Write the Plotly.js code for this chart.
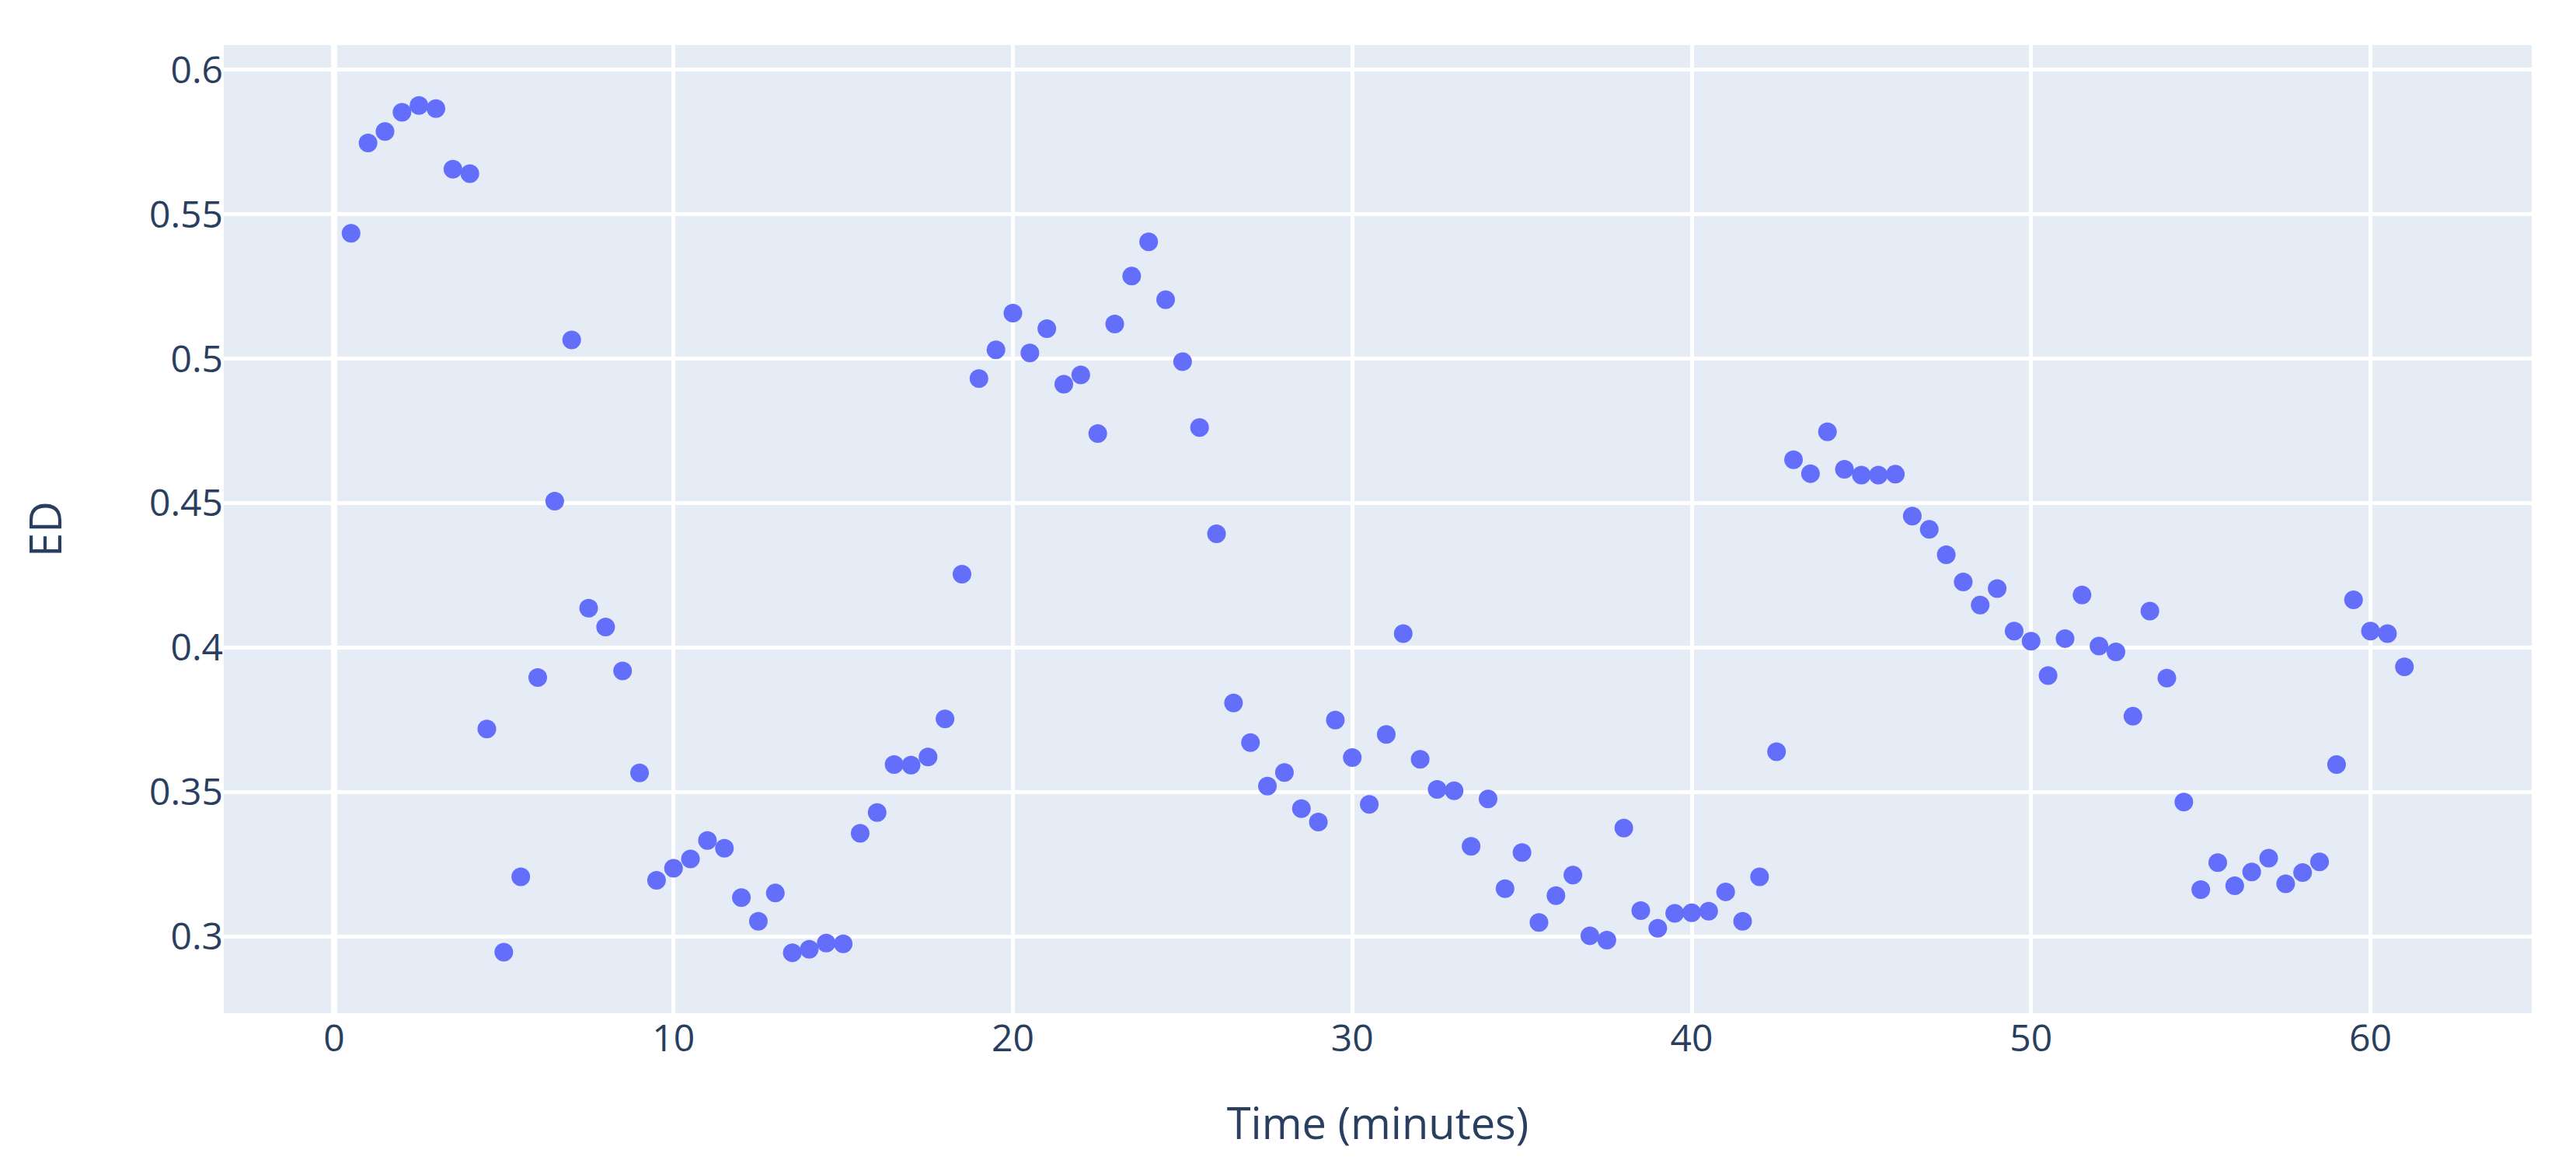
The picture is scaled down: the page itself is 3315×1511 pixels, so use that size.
<!DOCTYPE html>
<html>
<head>
<meta charset="utf-8">
<script src="https://cdn.plot.ly/plotly-3.0.1.min.js"></script>
<style>
  html, body { margin: 0; padding: 0; background: #ffffff; }
  #chart { width: 3315px; height: 1511px; }
</style>
</head>
<body>
<div id="chart"></div>
<script>
const timeMinutes = [
  0.5, 1, 1.5, 2, 2.5, 3, 3.5, 4, 4.5, 5, 5.5, 6, 6.5, 7, 7.5, 8, 8.5, 9, 9.5, 10,
  10.5, 11, 11.5, 12, 12.5, 13, 13.5, 14, 14.5, 15, 15.5, 16, 16.5, 17, 17.5, 18, 18.5, 19, 19.5, 20,
  20.5, 21, 21.5, 22, 22.5, 23, 23.5, 24, 24.5, 25, 25.5, 26, 26.5, 27, 27.5, 28, 28.5, 29, 29.5, 30,
  30.5, 31, 31.5, 32, 32.5, 33, 33.5, 34, 34.5, 35, 35.5, 36, 36.5, 37, 37.5, 38, 38.5, 39, 39.5, 40,
  40.5, 41, 41.5, 42, 42.5, 43, 43.5, 44, 44.5, 45, 45.5, 46, 46.5, 47, 47.5, 48, 48.5, 49, 49.5, 50,
  50.5, 51, 51.5, 52, 52.5, 53, 53.5, 54, 54.5, 55, 55.5, 56, 56.5, 57, 57.5, 58, 58.5, 59, 59.5, 60,
  60.5, 61
];

const edValues = [
  0.5434, 0.5747, 0.5787, 0.5853, 0.5877, 0.5866, 0.5656, 0.5641, 0.3718, 0.2945,
  0.3206, 0.3896, 0.4507, 0.5065, 0.4136, 0.4071, 0.3919, 0.3566, 0.3194, 0.3236,
  0.3268, 0.3332, 0.3305, 0.3134, 0.3052, 0.3150, 0.2943, 0.2955, 0.2977, 0.2974,
  0.3357, 0.3429, 0.3595, 0.3593, 0.3621, 0.3753, 0.4254, 0.4931, 0.5031, 0.5158,
  0.5020, 0.5104, 0.4912, 0.4944, 0.4741, 0.5120, 0.5286, 0.5405, 0.5204, 0.4990,
  0.4762, 0.4394, 0.3808, 0.3671, 0.3520, 0.3567, 0.3442, 0.3396, 0.3749, 0.3619,
  0.3457, 0.3699, 0.4048, 0.3613, 0.3509, 0.3504, 0.3312, 0.3476, 0.3165, 0.3290,
  0.3048, 0.3141, 0.3212, 0.3002, 0.2987, 0.3375, 0.3089, 0.3028, 0.3080, 0.3082,
  0.3087, 0.3154, 0.3052, 0.3206, 0.3639, 0.4650, 0.4602, 0.4747, 0.4617, 0.4597,
  0.4597, 0.4600, 0.4455, 0.4409, 0.4321, 0.4227, 0.4147, 0.4204, 0.4057, 0.4022,
  0.3903, 0.4031, 0.4182, 0.4005, 0.3985, 0.3762, 0.4126, 0.3894, 0.3465, 0.3162,
  0.3255, 0.3175, 0.3223, 0.3271, 0.3182, 0.3221, 0.3258, 0.3595, 0.4165, 0.4057,
  0.4048, 0.3933
];

const xTitle = "Time (minutes)";
const yTitle = "ED";

const trace = {
  type: "scatter",
  mode: "markers",
  x: timeMinutes,
  y: edValues,
  marker: { color: "#636efa", size: 24 },
  showlegend: false
};

const fontFamily = '"Open Sans", verdana, arial, sans-serif';

const layout = {
  width: 3315,
  height: 1511,
  paper_bgcolor: "#ffffff",
  plot_bgcolor: "#E5ECF6",
  font: { family: fontFamily, size: 48, color: "#2a3f5f" },
  margin: { l: 288, r: 57, t: 58, b: 207, pad: 0 },
  xaxis: {
    range: [-3.25, 64.75],
    dtick: 10,
    tick0: 0,
    showgrid: true,
    gridcolor: "#ffffff",
    gridwidth: 5,
    zeroline: true,
    zerolinecolor: "#ffffff",
    zerolinewidth: 8,
    showline: false,
    ticks: "",
    tickfont: { size: 48 },
    title: { text: xTitle, font: { size: 56 }, standoff: 60 },
    automargin: false
  },
  yaxis: {
    range: [0.2734, 0.6086],
    dtick: 0.05,
    tick0: 0,
    showgrid: true,
    gridcolor: "#ffffff",
    gridwidth: 5,
    zeroline: false,
    showline: false,
    ticks: "",
    tickfont: { size: 48 },
    title: { text: yTitle, font: { size: 56 }, standoff: 94 },
    automargin: false
  }
};

Plotly.newPlot("chart", [trace], layout, { staticPlot: true, displayModeBar: false });
</script>
</body>
</html>
